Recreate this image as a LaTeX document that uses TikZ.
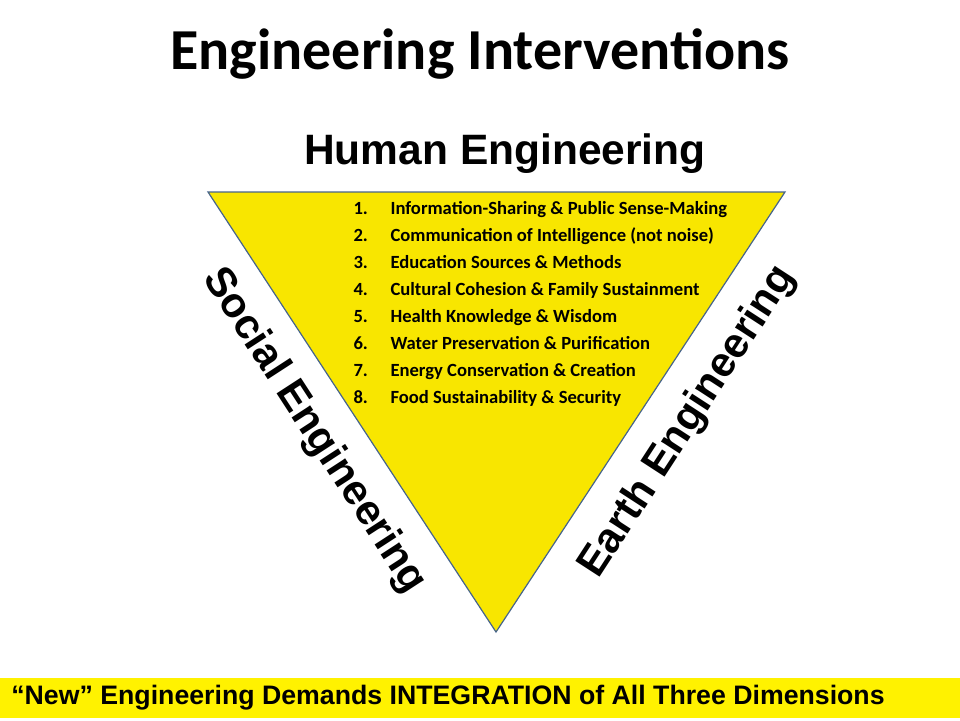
\documentclass[tikz,border=0pt]{standalone}
\usepackage{fontspec}
\setmainfont{Liberation Sans}
\newfontfamily\calib{Carlito}
\definecolor{triyellow}{RGB}{248,230,0}
\definecolor{triedge}{RGB}{70,100,140}
\tikzset{
  item/.style={anchor=base west,font=\calib\bfseries\fontsize{18.6}{22}\selectfont},
  sidelabel/.style={font=\bfseries\fontsize{42}{48}\selectfont}
}
\begin{document}
\begin{tikzpicture}[x=1pt,y=-1pt]
 \useasboundingbox (0,0) rectangle (960,720);
 % title
 \node (title) at (480,54) {\calib\bfseries\fontsize{58}{66}\selectfont Engineering Interventions};
 \node (human) at (505,154) {\bfseries\fontsize{42.5}{50}\selectfont Human Engineering};
 % triangle
 \draw[triedge,line width=1.2pt,fill=triyellow] (208,192)--(785,192)--(496,632)--cycle;
 % list
 \foreach \n/\t [count=\i from 0] in {1/Information-Sharing \& Public Sense-Making,
   2/Communication of Intelligence (not noise),
   3/Education Sources \& Methods,
   4/Cultural Cohesion \& Family Sustainment,
   5/Health Knowledge \& Wisdom,
   6/Water Preservation \& Purification,
   7/Energy Conservation \& Creation,
   8/Food Sustainability \& Security}{
   \node[item] (num\n) at (350,214+27*\i) {\n.};
   \node[item] (txt\n) at (387,214+27*\i) {\t};
 }
 % sides
 \node[sidelabel,rotate=-57] (social) at (314,431) {Social Engineering};
 \node[sidelabel,rotate=57] (earth) at (688,422) {Earth Engineering};
 % bottom bar
 \fill[yellow] (0,678) rectangle (960,718);
 \node (bar) at (448,698) {\bfseries\fontsize{26.7}{30}\selectfont “New” Engineering Demands INTEGRATION of All Three Dimensions};
\end{tikzpicture}
\end{document}
